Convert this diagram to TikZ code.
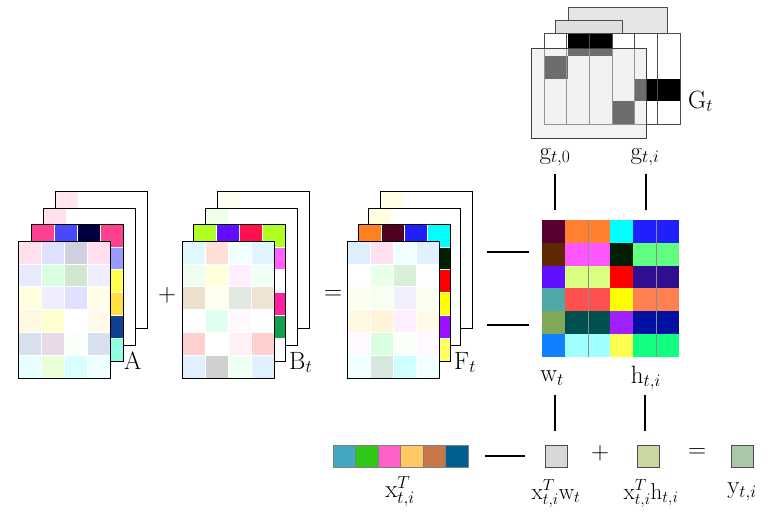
\documentclass[tikz,border=0pt]{standalone}
\usepackage{fix-cm}
\begin{document}
\begin{tikzpicture}[x=1pt,y=-1pt,
  lbl/.style={inner sep=0pt,font=\fontsize{25}{28}\selectfont},
  conn/.style={line width=2.4pt},
  sq/.style={draw=black!70,line width=0.6pt,minimum size=22pt,inner sep=0pt}]
\useasboundingbox (0,0) rectangle (776,519);
\newcommand\mysheet[3]{%
  \fill[white] (#1,#2) rectangle ++(92,137);
  \foreach \c [count=\i from 0] in {#3} {%
    \pgfmathtruncatemacro\col{mod(\i,4)}%
    \pgfmathtruncatemacro\row{int(\i/4)}%
    \definecolor{tmpc}{HTML}{\c}%
    \fill[tmpc,draw=white,line width=0.4pt] ({#1+23*\col},{#2+22.83*\row}) rectangle ++(23,22.83);
  }
  \draw[line width=1pt] (#1,#2) rectangle ++(92,137);
}
\def\paleA{FFE6F0,E6E6FF,D0D0E0,FFE6F0,FFFFFF,FFFFFF,FFFFFF,EEEEFF,FFFFFF,FFFFFF,FFFFFF,FFFFE0,FFFFFF,FFFFFF,FFFFFF,F0F0FF,FFFFFF,FFFFFF,FFFFFF,D8E0F0,FFFFFF,FFFFFF,FFFFFF,E8FFFF}
\def\paleAA{FFE0EC,E0E0FF,D0D0E0,FFE0EC,FFFFFF,FFFFFF,FFFFFF,E8E8FF,FFFFFF,FFFFFF,FFFFFF,FFFFD8,FFFFFF,FFFFFF,FFFFFF,F8F8FF,FFFFFF,FFFFFF,FFFFFF,D0DCEC,FFFFFF,FFFFFF,FFFFFF,E0FFFF}
\def\paleB{FFFFF0,FFE0FF,FFFFFF,FFFFF0,FFFFFF,FFFFFF,FFFFFF,FFF0FF,FFFFFF,FFFFFF,FFFFFF,E8E0F4,FFFFFF,FFFFFF,FFFFFF,FFF0F8,FFFFFF,FFFFFF,FFFFFF,F8F0F0,FFFFFF,FFFFFF,FFFFFF,FFF0FF}
\def\paleC{EEFFE8,F8FFFF,E0E8E0,EEFFE8,FFFFFF,FFFFFF,FFFFFF,FFEEFF,FFFFFF,FFFFFF,FFFFFF,F4F0FF,FFFFFF,FFFFFF,FFFFFF,FFF0F4,FFFFFF,FFFFFF,FFFFFF,FFD8E0,FFFFFF,FFFFFF,FFFFFF,FFF0F8}
\def\paleF{FFFFE8,FFF0FF,D0D0D0,FFFFE8,FFFFFF,FFFFFF,FFFFFF,F0FFFF,FFFFFF,FFFFFF,FFFFFF,E8F0FF,FFFFFF,FFFFFF,FFFFFF,E0FFF0,FFFFFF,FFFFFF,FFFFFF,FFE0E0,FFFFFF,FFFFFF,FFFFFF,FFFFFF}
\def\paleG{FFFFE0,E0F8FF,E8E0E0,FFFFE8,FFFFFF,FFFFFF,FFFFFF,E0FFFF,FFFFFF,FFFFFF,FFFFFF,F0FFF0,FFFFFF,FFFFFF,FFFFFF,FFF0E8,FFFFFF,FFFFFF,FFFFFF,F0F0FF,FFFFFF,FFFFFF,FFFFFF,F0FFFF}
% A stack
\mysheet{55}{191}{\paleA}
\mysheet{43}{208}{\paleAA}
\mysheet{31}{224}{FF4090,4848FF,000040,FF4090,FFFFFF,FFFFFF,FFFFFF,9999FF,FFFFFF,FFFFFF,FFFFFF,FFFF50,FFFFFF,FFFFFF,FFFFFF,FFE040,FFFFFF,FFFFFF,FFFFFF,104090,FFFFFF,FFFFFF,FFFFFF,90FFE0}
\mysheet{18}{241}{FFE0EC,E0E0FF,D0D0E0,FFE0EC,E8E8FF,D8FFE0,D0E8D0,EEEEFF,FFFFE0,EEEEFF,E0E0FF,FFFFE8,FFF8E0,FFFFD0,FFFFFF,FFFBE8,D8E0F0,E8D8E8,FAFFFA,D8E0F0,E8FFFF,E8FFD8,D8FFFF,EEFFFF}
% B stack
\mysheet{217}{191}{\paleB}
\mysheet{205}{208}{\paleC}
\mysheet{193}{224}{B0FF20,6010FF,FF1050,B0FF20,FFFFFF,FFFFFF,FFFFFF,FF60FF,FFFFFF,FFFFFF,FFFFFF,FFFFFF,FFFFFF,FFFFFF,FFFFFF,FF20A0,FFFFFF,FFFFFF,FFFFFF,10A050,FFFFFF,FFFFFF,FFFFFF,FFFFFF}
\mysheet{182}{241}{E0F8FF,FFE0D8,F0FFFF,E0F4FF,EEFFF0,FFFFD8,FFEEFF,F0FFF4,EDE0CC,FFFFF0,E0E8E0,EFE4D4,FFFFFF,E0FFF0,FFF8FF,FFFFFF,FFD0D0,FFFFFF,FFF0F8,FFD0D0,E0F0FF,D0D0D0,EEFFF4,E0F0FF}
% F stack
\mysheet{380}{191}{\paleF}
\mysheet{368}{208}{\paleG}
\mysheet{358}{224}{FF8020,500020,2020FF,00FFFF,FFFFFF,FFFFFF,FFFFFF,002000,FFFFFF,FFFFFF,FFFFFF,FF0000,FFFFFF,FFFFFF,FFFFFF,FFFF00,FFFFFF,FFFFFF,FFFFFF,A010FF,FFFFFF,FFFFFF,FFFFFF,FFFF60}
\mysheet{347}{241}{DDEEFF,FFE0F0,F0FFFF,E0F0FF,FFFFFF,E8FFE8,D8F0D8,FFFFFF,FAFFF0,F8FFF0,F0F0FF,FAFFF0,FFF8E0,FFF4D8,FFF0FF,FFFBE8,FFF8FF,D8FFE0,FAFFFA,FFF8FF,F0FFFF,D8E8E0,D0FFFF,F0FFFF}
\node[lbl,anchor=base west] (A) at (124,369) {A};
\node[lbl,anchor=base west] (B) at (289,369) {B$_t$};
\node[lbl,anchor=base west] (F) at (454,369) {F$_t$};
\node[lbl] (plus1) at (167,295) {+};
\node[lbl] (eq1) at (333,295) {=};
% W matrix
\foreach \c [count=\i from 0] in {5A0030,FF8030,FF8030,00FFFF,2020FF,2020FF,602800,FF55FF,FF55FF,002000,60FF80,60FF80,6010FF,D8FF80,D8FF80,FF0000,301090,301090,50A8A8,FF5050,FF5050,FFFF00,FF8050,FF8050,80A858,005050,005050,A020FF,0010A0,0010A0,1080FF,A0FFFF,A0FFFF,FFFF50,10FF80,10FF80}{%
  \pgfmathtruncatemacro\col{mod(\i,6)}%
  \pgfmathtruncatemacro\row{int(\i/6)}%
  \definecolor{tmpc}{HTML}{\c}%
  \fill[tmpc] ({542+22.83*\col},{220+22.83*\row}) rectangle ++(22.9,22.9);
}
\draw[black!45,line width=0.4pt] (587.7,220) -- (587.7,357) (656.3,220) -- (656.3,357);
\coordinate (W1) at (529,252);
\coordinate (W2) at (529,325);
\coordinate (F1) at (487,252);
\coordinate (F2) at (487,325);
\draw[conn] (F1) -- (W1);
\draw[conn] (F2) -- (W2);
% G stack
\draw[black!70,fill=black!10,line width=0.6pt] (568,7) rectangle (667,40);
\draw[black!70,fill=black!13,line width=0.6pt] (555,20) rectangle (622,40);
\fill[white] (544,33) rectangle (680,124);
\fill[black] (567.7,33) rectangle (613,55.75);
\fill[black] (544,55.75) rectangle (567.7,78.5);
\fill[black] (635.3,78.5) rectangle (680,101.25);
\fill[black] (613,101.25) rectangle (635.3,124);
\draw[black!70,line width=0.6pt,xstep=22.67,ystep=22.75,shift={(544,33)}] (0,0) grid (136,91);
\draw[black!70,line width=0.6pt] (544,33) rectangle (680,124);
\fill[black!10,opacity=0.48] (531,48) rectangle (646,138);
\draw[black!75,line width=0.8pt] (531,48) rectangle (646,138);
\node[lbl,anchor=base west] (G) at (688,108) {G$_t$};
\node[lbl] (g0) at (555,157) {g$_{t,0}$};
\node[lbl] (gi) at (645,157) {g$_{t,i}$};
\coordinate (Wg0) at (555,210);
\coordinate (Wgi) at (646,210);
\coordinate (Gg0) at (555,174);
\coordinate (Ggi) at (646,174);
\draw[conn] (Gg0) -- (Wg0);
\draw[conn] (Ggi) -- (Wgi);
\node[lbl] (w) at (552,378) {w$_t$};
\node[lbl] (h) at (646,378) {h$_{t,i}$};
% bottom
\foreach \c [count=\i from 0] in {40A8C0,30C818,FF60C8,FFC860,C87848,006090}{%
  \definecolor{tmpc}{HTML}{\c}%
  \fill[tmpc] ({333+22.5*\i},445) rectangle ++(22.5,22);
}
\draw[black!50,line width=0.4pt] (333,445) rectangle (468,467);
\foreach \i in {1,...,5} \draw[black!50,line width=0.4pt] ({333+22.5*\i},445) -- ++(0,22);
\node[lbl] (xt) at (400,492) {x$^{T}_{t,i}$};
\node[sq,fill={rgb,255:red,216;green,216;blue,216}] (s1) at (556,456) {};
\node[sq,fill={rgb,255:red,200;green,216;blue,160}] (s2) at (648,456) {};
\node[sq,fill={rgb,255:red,168;green,200;blue,168}] (s3) at (742,456) {};
\node[lbl] (plus2) at (600,453) {+};
\node[lbl] (eq2) at (697,453) {=};
\coordinate (xr) at (485,456);
\coordinate (xl) at (525,456);
\draw[conn] (xr) -- (xl);
\coordinate (wb) at (555,395);
\coordinate (hb) at (645,395);
\coordinate (wq) at (555,431);
\coordinate (hq) at (645,431);
\draw[conn] (wb) -- (wq);
\draw[conn] (hb) -- (hq);
\node[lbl,font=\fontsize{23}{26}\selectfont] (l1) at (556,494) {x$^{T}_{t,i}$w$_t$};
\node[lbl,font=\fontsize{23}{26}\selectfont] (l2) at (651,494) {x$^{T}_{t,i}$h$_{t,i}$};
\node[lbl] (l3) at (742,492) {y$_{t,i}$};
\end{tikzpicture}
\end{document}
